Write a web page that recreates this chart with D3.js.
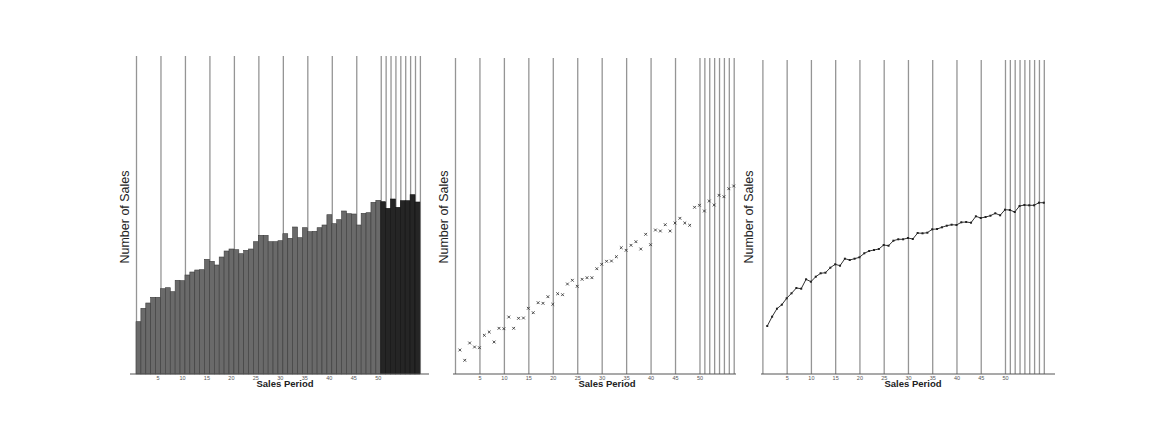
<!DOCTYPE html>
<html>
<head>
<meta charset="utf-8">
<script src="https://cdn.jsdelivr.net/npm/d3@7"></script>
<style>
  body { margin: 0; background: #fff; }
  svg { display: block; font-family: "Liberation Sans", Arial, sans-serif; }
  .grid line { stroke: #959595; stroke-width: 1.3; }
  .grid path { display: none; }
  .ticks path { display: none; }
  .ticks text { fill: #555; font-size: 5.5px; }
</style>
</head>
<body>
<svg id="chart" width="1170" height="439"></svg>
<script>
// values (same y units in each)
let barSales = [52.3, 65.7, 71, 76.7, 76.7, 85.3, 86.3, 82.3, 93.7, 93.3,
    99, 102, 104, 104.3, 114.7, 112.7, 109, 117, 123, 125,
    124.3, 120.3, 123.7, 125, 132.3, 138.7, 138.7, 132.3, 132.3, 133.3,
    140.3, 135.7, 147, 136.3, 146.3, 142.3, 142.7, 146.3, 149, 159.3,
    150.3, 154.3, 163, 160.3, 160, 149, 160.7, 161.3, 171.7, 173.7,
    172.3, 165.7, 175, 166.7, 173.3, 173.3, 179.3, 172];
let forecastFrom = 51; // bars after period 50 drawn darker

let scatterSales = [24, 13.7, 31, 27, 26.3, 38.7, 42, 32, 45.7, 45.3,
    57, 45.7, 55.7, 56, 65.7, 61.3, 71.3, 70.7, 77.3, 69.7,
    80.3, 79.3, 90, 93.7, 87.7, 94.7, 96.3, 96.3, 105.3, 109.7,
    112.7, 113, 117.3, 126.3, 123.7, 128.7, 132.3, 125, 139.7, 129.3,
    144, 143, 149.3, 143, 151, 155.7, 151, 148.7, 166.7, 168.7,
    163, 173, 169, 178.7, 177.3, 185.3, 188];

let lineSales = [48, 57.3, 65.3, 69.3, 75.7, 80.7, 86, 85.3, 94.7, 92.3,
    97.3, 100.7, 101.3, 106.3, 109.7, 108.3, 115.3, 114, 115.3, 116.7,
    120.7, 123, 124, 125, 129, 128.3, 133.3, 134.7, 134.7, 136,
    135, 141, 140.7, 141.3, 144.7, 145, 146.7, 148.3, 149.3, 149,
    151.7, 152, 151.3, 157.7, 156, 157, 158.3, 160.7, 158.7, 164.3,
    164, 162, 168, 169, 168.7, 168.7, 171.3, 171.3];

let tickLabels = [5, 10, 15, 20, 25, 30, 35, 40, 45, 50];
let yLabel = "Number of Sales";
let xLabel = "Sales Period";

const svg = d3.select("#chart");
const baseY = 374;
const y = d3.scaleLinear().domain([0, 320]).range([baseY, 54]);

// layout of each panel
const panels = [
    {kind: "bar", data: barSales, x0: 136, x1: 419.9, top: 56, axL: 130, axR: 429, yLab: 129, xLab: 285, tickShift: -3},
    {kind: "cross", data: scatterSales, x0: 455, x1: 733.7, top: 58, axL: 453, axR: 736, yLab: 448, xLab: 607, tickShift: 0},
    {kind: "line", data: lineSales, x0: 762.4, x1: 1043.8, top: 60, axL: 761, axR: 1055, yLab: 753, xLab: 913, tickShift: 0}
];

panels.forEach(p => {
    let n = p.data.length;
    let x = d3.scaleLinear().domain([0, n]).range([p.x0, p.x1]);
    let g = svg.append("g");

    // vertical reference lines: origin, every 5 up to 50, then each period
    let gridVals = [0].concat(tickLabels, d3.range(51, n + 1));
    g.append("g")
        .attr("class", "grid")
        .attr("transform", "translate(0," + baseY + ")")
        .call(d3.axisBottom(x).tickValues(gridVals).tickSize(-(baseY - p.top)).tickFormat(""));

    if (p.kind === "bar") {
        let w = x(1) - x(0);
        g.selectAll("rect.bar")
            .data(p.data)
            .enter()
            .append("rect")
            .attr("class", "bar")
            .attr("x", (d, i) => x(i))
            .attr("y", d => y(d))
            .attr("width", w)
            .attr("height", d => baseY - y(d))
            .attr("fill", (d, i) => i + 1 >= forecastFrom ? "#252525" : "#6a6a6a")
            .attr("stroke", (d, i) => i + 1 >= forecastFrom ? "#111" : "#3c3c3c")
            .attr("stroke-width", 0.6);
    } else if (p.kind === "cross") {
        g.selectAll("path.cross")
            .data(p.data)
            .enter()
            .append("path")
            .attr("class", "cross")
            .attr("d", d3.symbol(d3.symbolX, 6))
            .attr("transform", (d, i) => "translate(" + x(i + 1) + "," + y(d) + ")")
            .attr("fill", "none")
            .attr("stroke", "#3a3a3a")
            .attr("stroke-width", 0.9);
    } else {
        let line = d3.line().x((d, i) => x(i + 1)).y(d => y(d));
        g.append("path")
            .datum(p.data)
            .attr("d", line)
            .attr("fill", "none")
            .attr("stroke", "#333")
            .attr("stroke-width", 1);
        g.selectAll("rect.pt")
            .data(p.data)
            .enter()
            .append("rect")
            .attr("class", "pt")
            .attr("x", (d, i) => x(i + 1) - 1)
            .attr("y", d => y(d) - 1)
            .attr("width", 2)
            .attr("height", 2)
            .attr("fill", "#222");
    }

    // baseline
    g.append("line")
        .attr("x1", p.axL).attr("x2", p.axR)
        .attr("y1", baseY).attr("y2", baseY)
        .attr("stroke", "#555")
        .attr("stroke-width", 1.2);

    // tick labels
    g.append("g")
        .attr("class", "ticks")
        .attr("transform", "translate(" + p.tickShift + "," + (baseY + 1) + ")")
        .call(d3.axisBottom(x).tickValues(tickLabels).tickSize(0).tickPadding(1.5));

    g.append("text")
        .attr("x", p.xLab)
        .attr("y", baseY + 13)
        .attr("text-anchor", "middle")
        .attr("font-size", 9.5)
        .attr("font-weight", "bold")
        .attr("fill", "#222")
        .text(xLabel);

    g.append("text")
        .attr("transform", "translate(" + p.yLab + ",217) rotate(-90)")
        .attr("text-anchor", "middle")
        .attr("font-size", 12.5)
        .attr("fill", "#222")
        .text(yLabel);
});
</script>
</body>
</html>
